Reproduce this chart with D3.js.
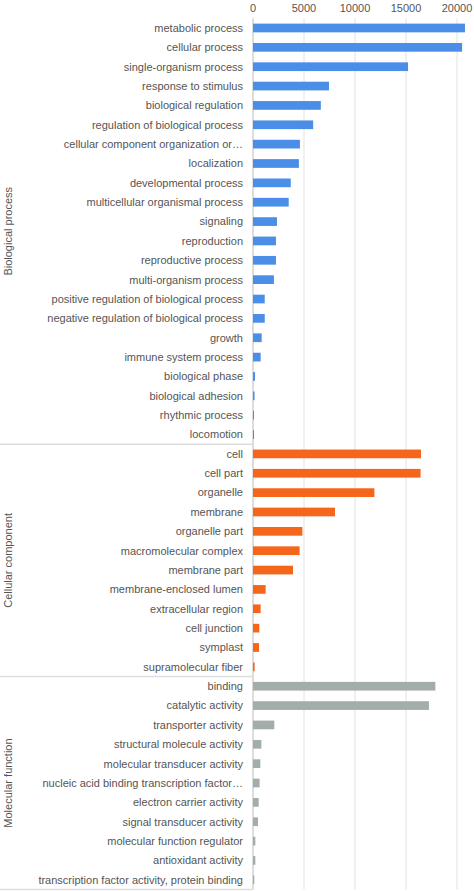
<!DOCTYPE html>
<html><head><meta charset="utf-8">
<script src="https://cdn.jsdelivr.net/npm/d3@7"></script>
<style>body{margin:0;background:#fff}</style></head>
<body><svg id="c" width="474" height="891"></svg>
<script>
const groups = ["Biological process","Cellular component","Molecular function"];
const bpCats = ["metabolic process","cellular process","single-organism process","response to stimulus","biological regulation","regulation of biological process","cellular component organization or…","localization","developmental process","multicellular organismal process","signaling","reproduction","reproductive process","multi-organism process","positive regulation of biological process","negative regulation of biological process","growth","immune system process","biological phase","biological adhesion","rhythmic process","locomotion"];
const bpVals = [20780,20500,15200,7450,6650,5900,4600,4500,3700,3500,2350,2250,2250,2050,1150,1150,850,750,200,150,100,100];
const ccCats = ["cell","cell part","organelle","membrane","organelle part","macromolecular complex","membrane part","membrane-enclosed lumen","extracellular region","cell junction","symplast","supramolecular fiber"];
const ccVals = [16470,16430,11900,8040,4840,4570,3920,1240,750,620,590,160];
const mfCats = ["binding","catalytic activity","transporter activity","structural molecule activity","molecular transducer activity","nucleic acid binding transcription factor…","electron carrier activity","signal transducer activity","molecular function regulator","antioxidant activity","transcription factor activity, protein binding"];
const mfVals = [17880,17250,2090,820,720,650,560,490,230,230,130];
const ticks = [0,5000,10000,15000,20000];
const colors = ["#4a8ee8","#f5661a","#a3aeab"];

const sets=[[bpCats,bpVals],[ccCats,ccVals],[mfCats,mfVals]];
const rows=[];
sets.forEach((s,g)=>s[0].forEach((c,i)=>rows.push({c,v:s[1][i],g,key:g+"_"+i})));
const svg=d3.select("#c");
const x0=253, yTop=18.3, yBot=889.5;
const x=d3.scaleLinear().domain([0,20000]).range([x0,457]);
const y=d3.scaleBand().domain(rows.map(r=>r.key)).range([yTop,yBot]).paddingInner(0.55).paddingOuter(0.275);
const step=y.step();
svg.selectAll(".g").data(ticks).join("line").attr("x1",d=>x(d)).attr("x2",d=>x(d)).attr("y1",yTop).attr("y2",yBot)
 .attr("stroke",d=>d===0?"#bbb":"#e2e2e2").attr("stroke-width",1);
svg.selectAll(".t").data(ticks).join("text").attr("x",d=>x(d)).attr("y",12).attr("text-anchor","middle")
 .attr("font-family","Liberation Sans, Arial").attr("font-size",11).attr("fill","#555").text(d=>d);
svg.selectAll(".b").data(rows).join("rect").attr("x",x0).attr("y",d=>y(d.key)).attr("height",y.bandwidth())
 .attr("width",d=>Math.max(1,x(d.v)-x0)).attr("fill",d=>colors[d.g]);
svg.selectAll(".l").data(rows).join("text").attr("x",243).attr("y",d=>y(d.key)+y.bandwidth()/2).attr("dy","0.35em")
 .attr("text-anchor","end").attr("font-family","Liberation Sans, Arial").attr("font-size",11).attr("fill","#555").text(d=>d.c);
let start=0;
sets.forEach((s,g)=>{
  const n=s[0].length;
  const y1=yTop+start*step, y2=yTop+(start+n)*step;
  svg.append("line").attr("x1",0).attr("x2",x0).attr("y1",y2).attr("y2",y2).attr("stroke","#ddd").attr("stroke-width",1.5);
  svg.append("text").attr("transform",`translate(12,${(y1+y2)/2}) rotate(-90)`).attr("text-anchor","middle")
   .attr("font-family","Liberation Sans, Arial").attr("font-size",11).attr("fill","#555").text(groups[g]);
  start+=n;
});
</script></body></html>
